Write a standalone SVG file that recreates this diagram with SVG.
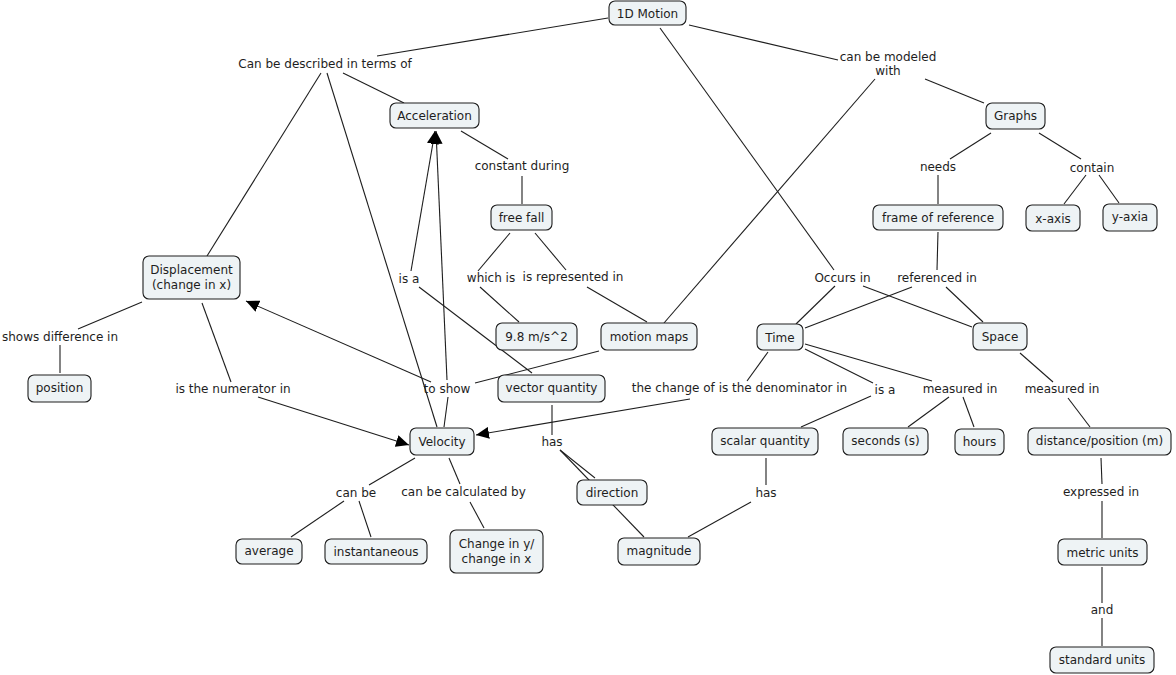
<svg xmlns="http://www.w3.org/2000/svg" width="1176" height="675" viewBox="0 0 1176 675">
<style>
text{font-family:"DejaVu Sans","Verdana",sans-serif;font-size:12px;fill:#1e1e1e;text-anchor:middle}
.n rect{fill:#eef3f5;stroke:#1e1e1e;stroke-width:1.1}
#connectors line{stroke:#1e1e1e;stroke-width:1.1}
</style>
<defs>
<marker id="ah" markerUnits="userSpaceOnUse" markerWidth="14" markerHeight="12" refX="13" refY="6" orient="auto">
<path d="M0,0 L13,6 L0,12 z" fill="#000"/>
</marker>
</defs>
<rect width="1176" height="675" fill="#fff"/>
<g id="connectors">
<line x1="377" y1="56" x2="608" y2="18"/>
<line x1="321" y1="73" x2="207" y2="256"/>
<line x1="343" y1="73" x2="404" y2="103"/>
<line x1="327" y1="73" x2="437" y2="427"/>
<line x1="689" y1="25" x2="838" y2="60"/>
<line x1="925" y1="79" x2="984" y2="103"/>
<line x1="875" y1="79" x2="664" y2="323"/>
<line x1="660" y1="28" x2="834" y2="270"/>
<line x1="835" y1="286" x2="796" y2="324"/>
<line x1="863" y1="286" x2="972" y2="327"/>
<line x1="938" y1="232" x2="937" y2="270"/>
<line x1="912" y1="287" x2="805" y2="328"/>
<line x1="946" y1="287" x2="983" y2="322"/>
<line x1="991" y1="133" x2="950" y2="159"/>
<line x1="938" y1="175" x2="938" y2="204"/>
<line x1="1039" y1="133" x2="1081" y2="159"/>
<line x1="1086" y1="175" x2="1064" y2="204"/>
<line x1="1099" y1="175" x2="1119" y2="203"/>
<line x1="461" y1="131" x2="508" y2="159"/>
<line x1="522" y1="176" x2="522" y2="204"/>
<line x1="510" y1="233" x2="478" y2="271"/>
<line x1="480" y1="287" x2="519" y2="322"/>
<line x1="535" y1="233" x2="566" y2="270"/>
<line x1="587" y1="287" x2="647" y2="322"/>
<line x1="599" y1="351" x2="475" y2="383"/>
<line x1="431" y1="382" x2="246" y2="301" marker-end="url(#ah)"/>
<line x1="411" y1="271" x2="435" y2="131" marker-end="url(#ah)"/>
<line x1="447" y1="380" x2="436" y2="131" marker-end="url(#ah)"/>
<line x1="448" y1="397" x2="444" y2="427"/>
<line x1="419" y1="287" x2="532" y2="373"/>
<line x1="142" y1="302" x2="78" y2="329"/>
<line x1="60" y1="345" x2="60" y2="373"/>
<line x1="202" y1="303" x2="231" y2="382"/>
<line x1="258" y1="397" x2="409" y2="445" marker-end="url(#ah)"/>
<line x1="690" y1="399" x2="476" y2="435" marker-end="url(#ah)"/>
<line x1="768" y1="352" x2="747" y2="381"/>
<line x1="805" y1="349" x2="873" y2="383"/>
<line x1="871" y1="396" x2="801" y2="427"/>
<line x1="805" y1="344" x2="932" y2="381"/>
<line x1="949" y1="397" x2="908" y2="427"/>
<line x1="963" y1="397" x2="974" y2="427"/>
<line x1="1020" y1="353" x2="1053" y2="382"/>
<line x1="1068" y1="398" x2="1090" y2="427"/>
<line x1="1101" y1="458" x2="1102" y2="484"/>
<line x1="1102" y1="501" x2="1102" y2="538"/>
<line x1="1102" y1="567" x2="1102" y2="603"/>
<line x1="1102" y1="618" x2="1102" y2="646"/>
<line x1="766" y1="458" x2="766" y2="485"/>
<line x1="751" y1="502" x2="688" y2="537"/>
<line x1="552" y1="405" x2="552" y2="435"/>
<line x1="560" y1="450" x2="644" y2="537"/>
<line x1="560" y1="450" x2="595" y2="478"/>
<line x1="415" y1="458" x2="369" y2="485"/>
<line x1="344" y1="501" x2="291" y2="537"/>
<line x1="359" y1="501" x2="371" y2="537"/>
<line x1="449" y1="458" x2="460" y2="484"/>
<line x1="470" y1="502" x2="484" y2="528"/>
</g>
<g id="n-1dmotion" class="n"><rect x="609" y="1" width="77" height="24" rx="6"/><text x="647.5" y="17.5">1D Motion</text></g>
<g id="n-acceleration" class="n"><rect x="390" y="103" width="89" height="25" rx="6"/><text x="434.5" y="120">Acceleration</text></g>
<g id="n-graphs" class="n"><rect x="986" y="103" width="59" height="26" rx="6"/><text x="1015.5" y="120">Graphs</text></g>
<g id="n-freefall" class="n"><rect x="491" y="205" width="61" height="25" rx="6"/><text x="521.5" y="222">free fall</text></g>
<g id="n-frame" class="n"><rect x="873" y="205" width="130" height="25" rx="6"/><text x="938" y="222">frame of reference</text></g>
<g id="n-xaxis" class="n"><rect x="1026" y="205" width="54" height="26" rx="6"/><text x="1053" y="222.5">x-axis</text></g>
<g id="n-yaxia" class="n"><rect x="1103" y="204" width="54" height="27" rx="6"/><text x="1130" y="221">y-axia</text></g>
<g id="n-displacement" class="n"><rect x="143" y="256" width="97" height="43" rx="6"/><text x="191.5" y="273.5">Displacement</text><text x="191.5" y="288.5">(change in x)</text></g>
<g id="n-98" class="n"><rect x="496" y="323" width="81" height="27" rx="6"/><text x="536.5" y="341">9.8 m/s^2</text></g>
<g id="n-motionmaps" class="n"><rect x="601" y="323" width="96" height="27" rx="6"/><text x="649" y="340.5">motion maps</text></g>
<g id="n-time" class="n"><rect x="757" y="324" width="46" height="26" rx="6"/><text x="780" y="342">Time</text></g>
<g id="n-space" class="n"><rect x="973" y="323" width="54" height="27" rx="6"/><text x="1000" y="340.5">Space</text></g>
<g id="n-position" class="n"><rect x="28" y="375" width="63" height="27" rx="6"/><text x="59.5" y="392">position</text></g>
<g id="n-vector" class="n"><rect x="498" y="375" width="107" height="27" rx="6"/><text x="551.5" y="392">vector quantity</text></g>
<g id="n-velocity" class="n"><rect x="410" y="428" width="64" height="27" rx="6"/><text x="442" y="445.5">Velocity</text></g>
<g id="n-scalar" class="n"><rect x="712" y="428" width="106" height="27" rx="6"/><text x="765" y="445">scalar quantity</text></g>
<g id="n-seconds" class="n"><rect x="843" y="428" width="85" height="27" rx="6"/><text x="885.5" y="445">seconds (s)</text></g>
<g id="n-hours" class="n"><rect x="955" y="429" width="49" height="26" rx="6"/><text x="979.5" y="446">hours</text></g>
<g id="n-distance" class="n"><rect x="1028" y="428" width="143" height="27" rx="6"/><text x="1099.5" y="445">distance/position (m)</text></g>
<g id="n-direction" class="n"><rect x="577" y="480" width="70" height="25" rx="6"/><text x="612" y="497">direction</text></g>
<g id="n-average" class="n"><rect x="236" y="539" width="66" height="25" rx="6"/><text x="269" y="554.5">average</text></g>
<g id="n-instantaneous" class="n"><rect x="325" y="539" width="102" height="25" rx="6"/><text x="376" y="556">instantaneous</text></g>
<g id="n-change" class="n"><rect x="450" y="530" width="93" height="43" rx="6"/><text x="496.5" y="548">Change in y/</text><text x="496.5" y="563">change in x</text></g>
<g id="n-magnitude" class="n"><rect x="618" y="538" width="82" height="27" rx="6"/><text x="659" y="555">magnitude</text></g>
<g id="n-metric" class="n"><rect x="1058" y="539" width="89" height="26" rx="6"/><text x="1102.5" y="557">metric units</text></g>
<g id="n-standard" class="n"><rect x="1050" y="647" width="104" height="26" rx="6"/><text x="1102" y="664">standard units</text></g>
<g id="l-described"><text x="325" y="68">Can be described in terms of</text></g>
<g id="l-modeled"><text x="888" y="61">can be modeled</text><text x="888" y="75">with</text></g>
<g id="l-constant"><text x="522" y="170">constant during</text></g>
<g id="l-needs"><text x="938" y="171">needs</text></g>
<g id="l-contain"><text x="1092" y="172">contain</text></g>
<g id="l-isa1"><text x="409" y="283">is a</text></g>
<g id="l-whichis"><text x="491" y="282">which is</text></g>
<g id="l-represented"><text x="573" y="281">is represented in</text></g>
<g id="l-occurs"><text x="842.5" y="282">Occurs in</text></g>
<g id="l-referenced"><text x="937" y="282">referenced in</text></g>
<g id="l-shows"><text x="60" y="341">shows difference in</text></g>
<g id="l-numerator"><text x="233" y="393">is the numerator in</text></g>
<g id="l-toshow"><text x="447" y="393">to show</text></g>
<g id="l-denominator"><text x="739.5" y="392">the change of is the denominator in</text></g>
<g id="l-isa2"><text x="885" y="394">is a</text></g>
<g id="l-measured1"><text x="960" y="393">measured in</text></g>
<g id="l-measured2"><text x="1062" y="393">measured in</text></g>
<g id="l-has1"><text x="552" y="446">has</text></g>
<g id="l-canbe"><text x="356" y="497">can be</text></g>
<g id="l-calculated"><text x="463.5" y="496">can be calculated by</text></g>
<g id="l-has2"><text x="766" y="497">has</text></g>
<g id="l-expressed"><text x="1101" y="496">expressed in</text></g>
<g id="l-and"><text x="1102" y="614">and</text></g>
</svg>
